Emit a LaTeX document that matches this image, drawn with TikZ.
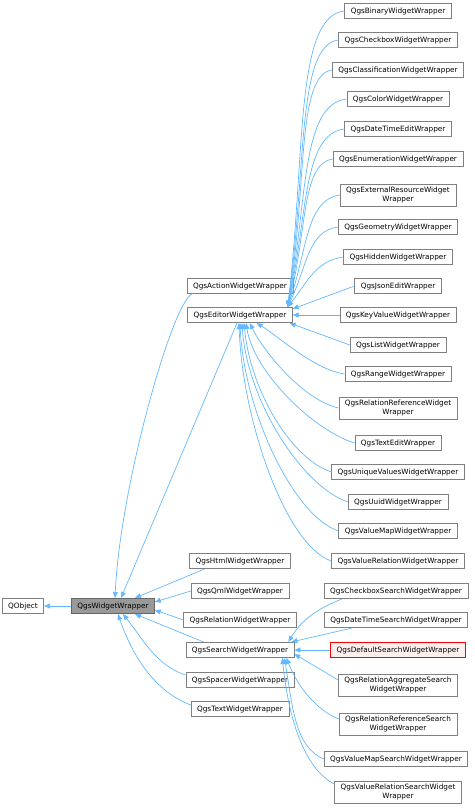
\documentclass[tikz,border=0pt]{standalone}
\usepackage{fontspec}
\setmainfont{DejaVu Sans}
\usetikzlibrary{arrows.meta}
\usetikzlibrary{positioning}
\definecolor{edgeblue}{HTML}{63B8FF}
\definecolor{boxgray}{HTML}{808080}
\definecolor{curgray}{HTML}{999999}
\definecolor{curdraw}{HTML}{666666}
\definecolor{undocred}{HTML}{FF0000}
\definecolor{undocfill}{HTML}{FFF0F0}
\begin{document}
\begin{tikzpicture}[x=1pt, y=-1pt,
    cls/.style={draw=boxgray, fill=white, line width=0.6pt, font=\fontsize{7.3}{9.6}\selectfont,
        align=center, inner xsep=6pt, inner ysep=2.6pt, minimum height=15.5pt},
    inh/.style={draw=edgeblue, line width=0.7pt, -{Triangle[length=6pt,width=5pt]}}]
    \useasboundingbox (0,0) rectangle (474,808);

    \node[cls] (qobject) at (23,606) {QObject};
    \node[cls, draw=curdraw, fill=curgray] (wrapper) at (113,606) {QgsWidgetWrapper};

    \node[cls] (action) at (240,286) {QgsActionWidgetWrapper};
    \node[cls] (editor) at (240,315) {QgsEditorWidgetWrapper};
    \node[cls] (html) at (240,561) {QgsHtmlWidgetWrapper};
    \node[cls] (qml) at (240,591) {QgsQmlWidgetWrapper};
    \node[cls] (relation) at (240,620) {QgsRelationWidgetWrapper};
    \node[cls] (search) at (240,650) {QgsSearchWidgetWrapper};
    \node[cls] (spacer) at (240,680) {QgsSpacerWidgetWrapper};
    \node[cls] (text) at (240,709) {QgsTextWidgetWrapper};

    \node[cls] (binary) at (398,11) {QgsBinaryWidgetWrapper};
    \node[cls] (checkbox) at (398,40) {QgsCheckboxWidgetWrapper};
    \node[cls] (classification) at (398,70) {QgsClassificationWidgetWrapper};
    \node[cls] (color) at (398,99) {QgsColorWidgetWrapper};
    \node[cls] (datetime) at (398,129) {QgsDateTimeEditWrapper};
    \node[cls] (enumeration) at (398,159) {QgsEnumerationWidgetWrapper};
    \node[cls] (extres) at (398,195) {QgsExternalResourceWidget\\Wrapper};
    \node[cls] (geometry) at (398,227) {QgsGeometryWidgetWrapper};
    \node[cls] (hidden) at (398,257) {QgsHiddenWidgetWrapper};
    \node[cls] (json) at (398,286) {QgsJsonEditWrapper};
    \node[cls] (keyvalue) at (398,315) {QgsKeyValueWidgetWrapper};
    \node[cls] (list) at (398,345) {QgsListWidgetWrapper};
    \node[cls] (range) at (398,374) {QgsRangeWidgetWrapper};
    \node[cls] (relref) at (398,408) {QgsRelationReferenceWidget\\Wrapper};
    \node[cls] (textedit) at (398,443) {QgsTextEditWrapper};
    \node[cls] (unique) at (398,472) {QgsUniqueValuesWidgetWrapper};
    \node[cls] (uuid) at (398,502) {QgsUuidWidgetWrapper};
    \node[cls] (valuemap) at (398,531) {QgsValueMapWidgetWrapper};
    \node[cls] (valuerel) at (398,561) {QgsValueRelationWidgetWrapper};

    \node[cls] (chksearch) at (396,591) {QgsCheckboxSearchWidgetWrapper};
    \node[cls] (dtsearch) at (396,620) {QgsDateTimeSearchWidgetWrapper};
    \node[cls, draw=undocred, fill=undocfill] (defsearch) at (398,650) {QgsDefaultSearchWidgetWrapper};
    \node[cls] (aggsearch) at (398,685) {QgsRelationAggregateSearch\\WidgetWrapper};
    \node[cls] (refsearch) at (398,724) {QgsRelationReferenceSearch\\WidgetWrapper};
    \node[cls] (vmsearch) at (396,759) {QgsValueMapSearchWidgetWrapper};
    \node[cls] (vrsearch) at (398,792) {QgsValueRelationSearchWidget\\Wrapper};

    % base classes
    \draw[inh] (wrapper.west) -- (qobject.east);
    \draw[inh] ([xshift=5pt]action.south west) .. controls +(-20,10) and +(5,-110) .. ([xshift=2pt]wrapper.north);
    \draw[inh] ([xshift=-3pt]editor.south) -- ([xshift=8pt]wrapper.north);
    \draw[inh] ([xshift=15pt]html.south west) -- ([xshift=22pt]wrapper.north);
    \draw[inh] (qml.west) -- ([yshift=4pt]wrapper.east);
    \draw[inh] (relation.west) -- ([yshift=-4pt]wrapper.east);
    \draw[inh] ([xshift=18pt]search.north west) -- ([xshift=22pt]wrapper.south);
    \draw[inh] ([yshift=5pt]spacer.west) .. controls +(-30,-10) and +(20,25) .. ([xshift=10pt]wrapper.south);
    \draw[inh] ([yshift=4pt]text.west) .. controls +(-40,-15) and +(12,35) .. ([xshift=5pt]wrapper.south);

    % editor widgets
    \draw[inh] (binary.west) .. controls +(-50,5) and +(18,-150) .. ([xshift=-5pt]editor.north east);
    \draw[inh] (checkbox.west) .. controls +(-42,5) and +(19,-135) .. ([xshift=-5pt]editor.north east);
    \draw[inh] (classification.west) .. controls +(-36,5) and +(20,-120) .. ([xshift=-5pt]editor.north east);
    \draw[inh] (color.west) .. controls +(-46,5) and +(20,-105) .. ([xshift=-5pt]editor.north east);
    \draw[inh] (datetime.west) .. controls +(-42,5) and +(20,-90) .. ([xshift=-5pt]editor.north east);
    \draw[inh] (enumeration.west) .. controls +(-32,5) and +(20,-75) .. ([xshift=-5pt]editor.north east);
    \draw[inh] (extres.west) .. controls +(-34,5) and +(20,-58) .. ([xshift=-5pt]editor.north east);
    \draw[inh] (geometry.west) .. controls +(-30,4) and +(20,-42) .. ([xshift=-5pt]editor.north east);
    \draw[inh] (hidden.west) .. controls +(-28,4) and +(20,-25) .. ([xshift=-5pt]editor.north east);
    \draw[inh] (json.west) -- ([yshift=-2pt]editor.north east);
    \draw[inh] (keyvalue.west) -- (editor.east);
    \draw[inh] (list.west) -- ([xshift=-3pt]editor.south east);
    \draw[inh] (range.west) .. controls +(-30,-4) and +(20,12) .. ([xshift=-36pt]editor.south east);
    \draw[inh] (relref.west) .. controls +(-35,-8) and +(15,30) .. ([xshift=-43pt]editor.south east);
    \draw[inh] (textedit.west) .. controls +(-40,-12) and +(8,50) .. ([xshift=6pt]editor.south);
    \draw[inh] (unique.west) .. controls +(-42,-14) and +(6,65) .. ([xshift=4pt]editor.south);
    \draw[inh] (uuid.west) .. controls +(-45,-15) and +(5,78) .. ([xshift=2pt]editor.south);
    \draw[inh] (valuemap.west) .. controls +(-45,-15) and +(4,88) .. (editor.south);
    \draw[inh] (valuerel.west) .. controls +(-46,-16) and +(3,96) .. ([xshift=-1pt]editor.south);

    % search widgets
    \draw[inh] ([xshift=18pt]chksearch.south west) .. controls +(-20,8) and +(15,-25) .. ([xshift=-6pt]search.north east);
    \draw[inh] ([xshift=28pt]dtsearch.south west) -- ([xshift=-3pt]search.north east);
    \draw[inh] (defsearch.west) -- (search.east);
    \draw[inh] ([yshift=5pt]aggsearch.west) -- ([yshift=-4pt]search.east);
    \draw[inh] ([yshift=5pt]refsearch.west) .. controls +(-25,-10) and +(10,25) .. ([xshift=-8pt]search.south east);
    \draw[inh] (vmsearch.west) .. controls +(-30,-12) and +(8,45) .. ([xshift=-10pt]search.south east);
    \draw[inh] ([yshift=8pt]vrsearch.west) .. controls +(-30,-15) and +(6,60) .. ([xshift=-12pt]search.south east);
\end{tikzpicture}
\end{document}
